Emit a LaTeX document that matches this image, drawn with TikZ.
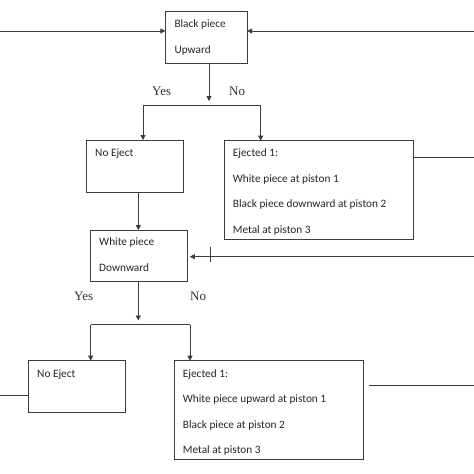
\documentclass[tikz,border=0pt]{standalone}
\usepackage{fontspec}
\newfontfamily\boxfont{Carlito}
\newfontfamily\lblfont{Liberation Serif}
\usetikzlibrary{arrows.meta}
\definecolor{ink}{HTML}{3C3C3C}
\tikzset{
  x=1pt, y=-1pt,
  ln/.style={draw=ink, line width=0.9pt},
  arr/.style={ln, -{Triangle[length=5pt,width=5pt]}},
  box/.style={draw=ink, line width=0.9pt, rectangle, inner sep=0pt, outer sep=0pt},
  txt/.style={anchor=base west, inner sep=0pt, font=\boxfont\fontsize{11.3}{13}\selectfont, text=black!85},
  yn/.style={anchor=base west, inner sep=0pt, font=\lblfont\fontsize{13}{15}\selectfont, text=black!80},
}
\begin{document}
\begin{tikzpicture}
\useasboundingbox[fill=white] (0,0) rectangle (474,474);
% boxes
\node[box, minimum width=81.7pt, minimum height=51.7pt] (A) at (206.2,37.2) {};
\node[box, minimum width=97pt, minimum height=52.3pt] (B) at (134.8,166.2) {};
\node[box, minimum width=188.7pt, minimum height=98.6pt] (C) at (318.7,190) {};
\node[box, minimum width=96.6pt, minimum height=51.7pt] (D) at (139,255.9) {};
\node[box, minimum width=96.6pt, minimum height=52pt] (E) at (77,386.7) {};
\node[box, minimum width=189pt, minimum height=99pt] (F) at (268.8,410.2) {};
% texts
\node[txt] (a1) at (174.3,27.5) {Black piece};
\node[txt] (a2) at (174.3,53.2) {Upward};
\node[txt] (b1) at (95,156.5) {No Eject};
\node[txt] (c1) at (232.7,156.7) {Ejected 1:};
\node[txt] (c2) at (232.7,182.3) {White piece at piston 1};
\node[txt] (c3) at (232.7,207.7) {Black piece downward at piston 2};
\node[txt] (c4) at (232.7,233.3) {Metal at piston 3};
\node[txt] (d1) at (99,245.5) {White piece};
\node[txt] (d2) at (99,271.2) {Downward};
\node[txt] (e1) at (37,377.2) {No Eject};
\node[txt] (f1) at (182.7,377.2) {Ejected 1:};
\node[txt] (f2) at (182.7,402.5) {White piece upward at piston 1};
\node[txt] (f3) at (182.7,428.5) {Black piece at piston 2};
\node[txt] (f4) at (182.7,453.5) {Metal at piston 3};
% yes/no labels
\node[yn] (y1) at (152,95) {Yes};
\node[yn] (n1) at (229,95) {No};
\node[yn] (y2) at (74,300) {Yes};
\node[yn] (n2) at (190,300) {No};
% coordinates
\coordinate (inAl) at (0,31);
\coordinate (inAr) at (474,31);
\coordinate (j1) at (209,101);
\coordinate (h1l) at (143,105);
\coordinate (h1r) at (260.7,105);
\coordinate (outC) at (474,157.7);
\coordinate (inDr) at (474,256.7);
\coordinate (tickT) at (210.7,247);
\coordinate (tickB) at (210.7,262);
\coordinate (j2) at (138.3,320.5);
\coordinate (h2l) at (90.7,324.7);
\coordinate (h2r) at (190,324.7);
\coordinate (inEl) at (0,395);
\coordinate (fS) at (368.7,385);
\coordinate (fE) at (474,385);
% connectors
\draw[arr] (inAl) -- (inAl -| A.west);
\draw[arr] (inAr) -- (inAr -| A.east);
\draw[arr] (A.south -| j1) -- (j1);
\draw[ln] (h1l) -- (h1r);
\draw[arr] (h1l) -- (h1l |- B.north);
\draw[arr] (h1r) -- (h1r |- C.north);
\draw[ln] (outC -| C.east) -- (outC);
\draw[arr] (B.south -| j2) -- (j2 |- D.north);
\draw[arr, shorten >=2.5pt] (inDr) -- (inDr -| D.east);
\draw[ln] (tickT) -- (tickB);
\draw[arr] (D.south -| j2) -- (j2);
\draw[ln] (h2l) -- (h2r);
\draw[arr] (h2l) -- (h2l |- E.north);
\draw[arr] (h2r) -- (h2r |- F.north);
\draw[ln] (inEl) -- (inEl -| E.west);
\draw[ln] (fS) -- (fE);
\end{tikzpicture}
\end{document}
